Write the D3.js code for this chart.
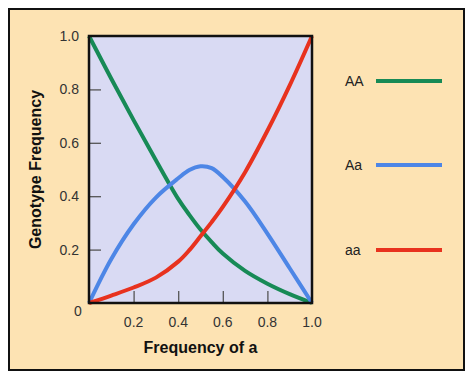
<!DOCTYPE html>
<html>
<head>
<meta charset="utf-8">
<script src="https://cdn.jsdelivr.net/npm/d3@7"></script>
<style>
  body { margin: 0; background: #fff; }
  svg { display: block; font-family: "Liberation Sans", Arial, sans-serif; }
</style>
</head>
<body>
<div id="chart"></div>
<script>
// values
var freqA = [0, 0.1, 0.2, 0.3, 0.4, 0.45, 0.5, 0.55, 0.6, 0.7, 0.8, 0.9, 1.0];
var AA = [1.0, 0.84, 0.685, 0.535, 0.39, 0.33, 0.275, 0.228, 0.185, 0.12, 0.072, 0.033, 0.0];
var Aa = [0.0, 0.165, 0.295, 0.395, 0.467, 0.498, 0.512, 0.505, 0.472, 0.38, 0.26, 0.13, 0.0];
var aa = [0.0, 0.028, 0.058, 0.095, 0.155, 0.198, 0.25, 0.303, 0.36, 0.49, 0.645, 0.815, 1.0];
var seriesNames = ["AA", "Aa", "aa"];
var xTicks = [0.2, 0.4, 0.6, 0.8, 1.0];
var yTicks = [0.2, 0.4, 0.6, 0.8, 1.0];

var w = 474, h = 380;
var plotLeft = 89, plotRight = 312, plotTop = 36, plotBottom = 303;

var colors = { AA: "#178a56", Aa: "#4d86e6", aa: "#e8321e" };
var seriesData = { AA: AA, Aa: Aa, aa: aa };
var legendY = { AA: 81, Aa: 165, aa: 250 };

var svg = d3.select("#chart")
    .append("svg")
    .attr("width", w)
    .attr("height", h);

//outer panel
svg.append("rect")
    .attr("x", 9).attr("y", 9)
    .attr("width", 455).attr("height", 361)
    .attr("fill", "#fde3b3")
    .attr("stroke", "#111")
    .attr("stroke-width", 2);

var xScale = d3.scaleLinear().domain([0, 1]).range([plotLeft, plotRight]);
var yScale = d3.scaleLinear().domain([0, 1]).range([plotBottom, plotTop]);

//plot background
svg.append("rect")
    .attr("x", xScale(0)).attr("y", yScale(1))
    .attr("width", xScale(1) - xScale(0))
    .attr("height", yScale(0) - yScale(1))
    .attr("fill", "#d9daf3");

//inner ticks
var yAxis = d3.axisRight(yScale)
    .tickValues(yTicks.slice(0, 4))
    .tickSize(12)
    .tickFormat("");
svg.append("g")
    .attr("class", "y axis")
    .attr("transform", "translate(" + plotLeft + ",0)")
    .call(yAxis)
    .call(g => g.select(".domain").remove())
    .selectAll("line").attr("stroke", "#555").attr("stroke-width", 1.3);

var xAxis = d3.axisTop(xScale)
    .tickValues(xTicks.slice(0, 4))
    .tickSize(12)
    .tickFormat("");
svg.append("g")
    .attr("class", "x axis")
    .attr("transform", "translate(0," + plotBottom + ")")
    .call(xAxis)
    .call(g => g.select(".domain").remove())
    .selectAll("line").attr("stroke", "#555").attr("stroke-width", 1.3);

//tick labels
svg.selectAll("text.ylab")
    .data(yTicks)
    .enter()
    .append("text")
    .attr("class", "ylab")
    .attr("x", 79)
    .attr("y", d => yScale(d) + 5)
    .attr("text-anchor", "end")
    .attr("font-size", "14px")
    .attr("fill", "#333")
    .text(d => d.toFixed(1));

svg.selectAll("text.xlab")
    .data(xTicks)
    .enter()
    .append("text")
    .attr("class", "xlab")
    .attr("x", d => xScale(d))
    .attr("y", 327)
    .attr("text-anchor", "middle")
    .attr("font-size", "14px")
    .attr("fill", "#333")
    .text(d => d.toFixed(1));

svg.append("text")
    .attr("x", 78)
    .attr("y", 316)
    .attr("text-anchor", "middle")
    .attr("font-size", "14px")
    .attr("fill", "#333")
    .text("0");

//curves
var line = d3.line()
    .x((d, i) => xScale(freqA[i]))
    .y(d => yScale(d))
    .curve(d3.curveCatmullRom.alpha(0.5));

seriesNames.forEach(function (name) {
    svg.append("path")
        .datum(seriesData[name])
        .attr("fill", "none")
        .attr("stroke", colors[name])
        .attr("stroke-width", 4)
        .attr("stroke-linejoin", "round")
        .attr("d", line);
});

//plot frame
svg.append("rect")
    .attr("x", xScale(0)).attr("y", yScale(1))
    .attr("width", xScale(1) - xScale(0))
    .attr("height", yScale(0) - yScale(1))
    .attr("fill", "none")
    .attr("stroke", "#111")
    .attr("stroke-width", 2.5);

//axis titles
svg.append("text")
    .attr("x", (plotLeft + plotRight) / 2)
    .attr("y", 353)
    .attr("text-anchor", "middle")
    .attr("font-size", "16px")
    .attr("font-weight", "bold")
    .attr("fill", "#111")
    .text("Frequency of a");

svg.append("text")
    .attr("transform", "translate(41," + ((plotTop + plotBottom) / 2) + ") rotate(-90)")
    .attr("text-anchor", "middle")
    .attr("font-size", "16px")
    .attr("font-weight", "bold")
    .attr("fill", "#111")
    .text("Genotype Frequency");

//legend
seriesNames.forEach(function (name) {
    svg.append("text")
        .attr("x", 345)
        .attr("y", legendY[name] + 5)
        .attr("font-size", "14px")
        .attr("fill", "#222")
        .text(name);
    svg.append("line")
        .attr("x1", 376).attr("x2", 442)
        .attr("y1", legendY[name]).attr("y2", legendY[name])
        .attr("stroke", colors[name])
        .attr("stroke-width", 4);
});
</script>
</body>
</html>
